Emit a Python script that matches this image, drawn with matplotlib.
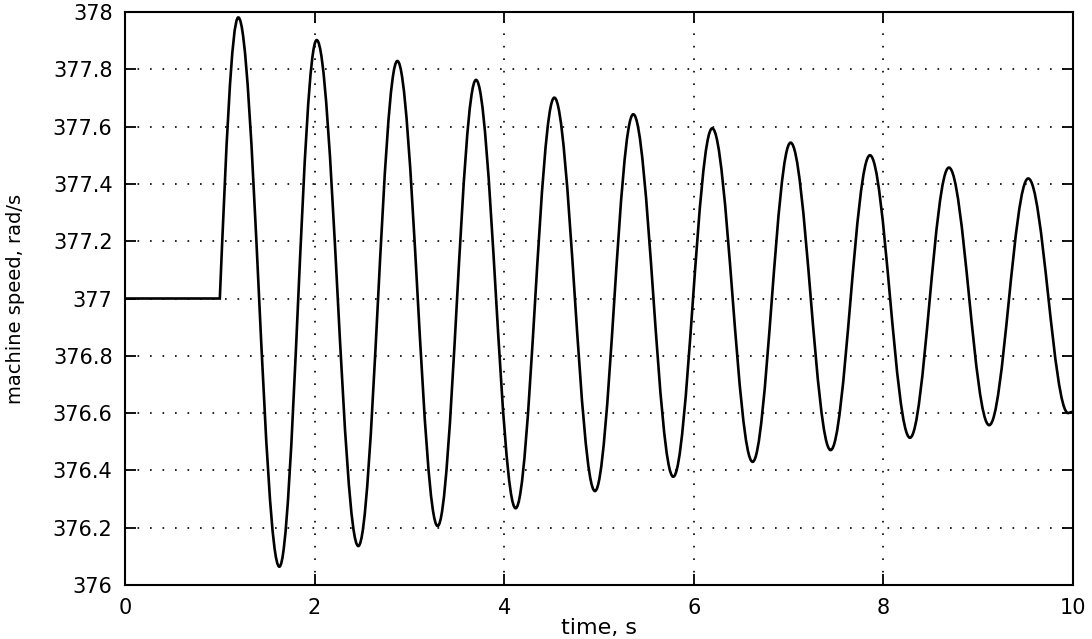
import matplotlib
matplotlib.use('Agg')
import matplotlib.pyplot as plt
from matplotlib.path import Path
from matplotlib.patches import PathPatch
from matplotlib.ticker import FuncFormatter

# values
base_speed = 377.0
step_time = 1.0
peak_t = [1.195, 2.022, 2.873, 3.703, 4.529, 5.362, 6.195, 7.022, 7.859, 8.692, 9.529]
peak_v = [377.981, 377.902, 377.829, 377.763, 377.701, 377.643, 377.594, 377.544, 377.500, 377.457, 377.419]
trough_t = [1.628, 2.461, 3.298, 4.121, 4.958, 5.784, 6.621, 7.444, 8.281, 9.117, 9.950]
trough_v = [376.064, 376.136, 376.206, 376.268, 376.328, 376.378, 376.430, 376.471, 376.514, 376.558, 376.600]
end_t, end_v = 10.0, 376.605

x_ticks = [0, 2, 4, 6, 8, 10]
y_ticks = [376, 376.2, 376.4, 376.6, 376.8, 377, 377.2, 377.4, 377.6, 377.8, 378]


def speed_path():
    # flat line, then smooth swings between the read extrema (cubic bezier)
    verts = [(0.0, base_speed), (step_time, base_speed)]
    codes = [Path.MOVETO, Path.LINETO]

    dt = peak_t[0] - step_time
    dv = peak_v[0] - base_speed
    verts += [(step_time + 0.326 * dt, base_speed + 0.512 * dv),
              (peak_t[0] - 0.362 * dt, peak_v[0]),
              (peak_t[0], peak_v[0])]
    codes += [Path.CURVE4] * 3

    ext = []
    for i in range(len(peak_t)):
        ext.append((peak_t[i], peak_v[i]))
        ext.append((trough_t[i], trough_v[i]))

    k = 0.364
    for (t0, v0), (t1, v1) in zip(ext[:-1], ext[1:]):
        d = t1 - t0
        verts += [(t0 + k * d, v0), (t1 - k * d, v1), (t1, v1)]
        codes += [Path.CURVE4] * 3

    verts.append((end_t, end_v))
    codes.append(Path.LINETO)
    return Path(verts, codes)


plt.rcParams['font.family'] = ['DejaVu Sans']

fig = plt.figure(figsize=(10.92, 6.39), dpi=100)
ax = fig.add_axes([0.1145, 0.0845, 0.868, 0.8967])

ax.add_patch(PathPatch(speed_path(), fill=False, edgecolor='black', linewidth=1.9))

ax.set_xlim(0, 10)
ax.set_ylim(376, 378)
ax.set_xticks(x_ticks)
ax.set_yticks(y_ticks)
ax.yaxis.set_major_formatter(FuncFormatter(lambda v, p: f'{v:g}'))
ax.xaxis.set_major_formatter(FuncFormatter(lambda v, p: f'{v:g}'))

ax.grid(True, color='black', linestyle=(0, (1, 6.5)), linewidth=1.2)
ax.tick_params(direction='in', length=8, width=1.3, top=True, right=True,
               labelsize=15, pad=9)
for s in ax.spines.values():
    s.set_linewidth(1.5)

ax.set_xlabel('time, s', fontsize=16, labelpad=0)
ax.set_ylabel('machine speed, rad/s', fontsize=14, labelpad=20)

fig.savefig('out.png', dpi=100)
